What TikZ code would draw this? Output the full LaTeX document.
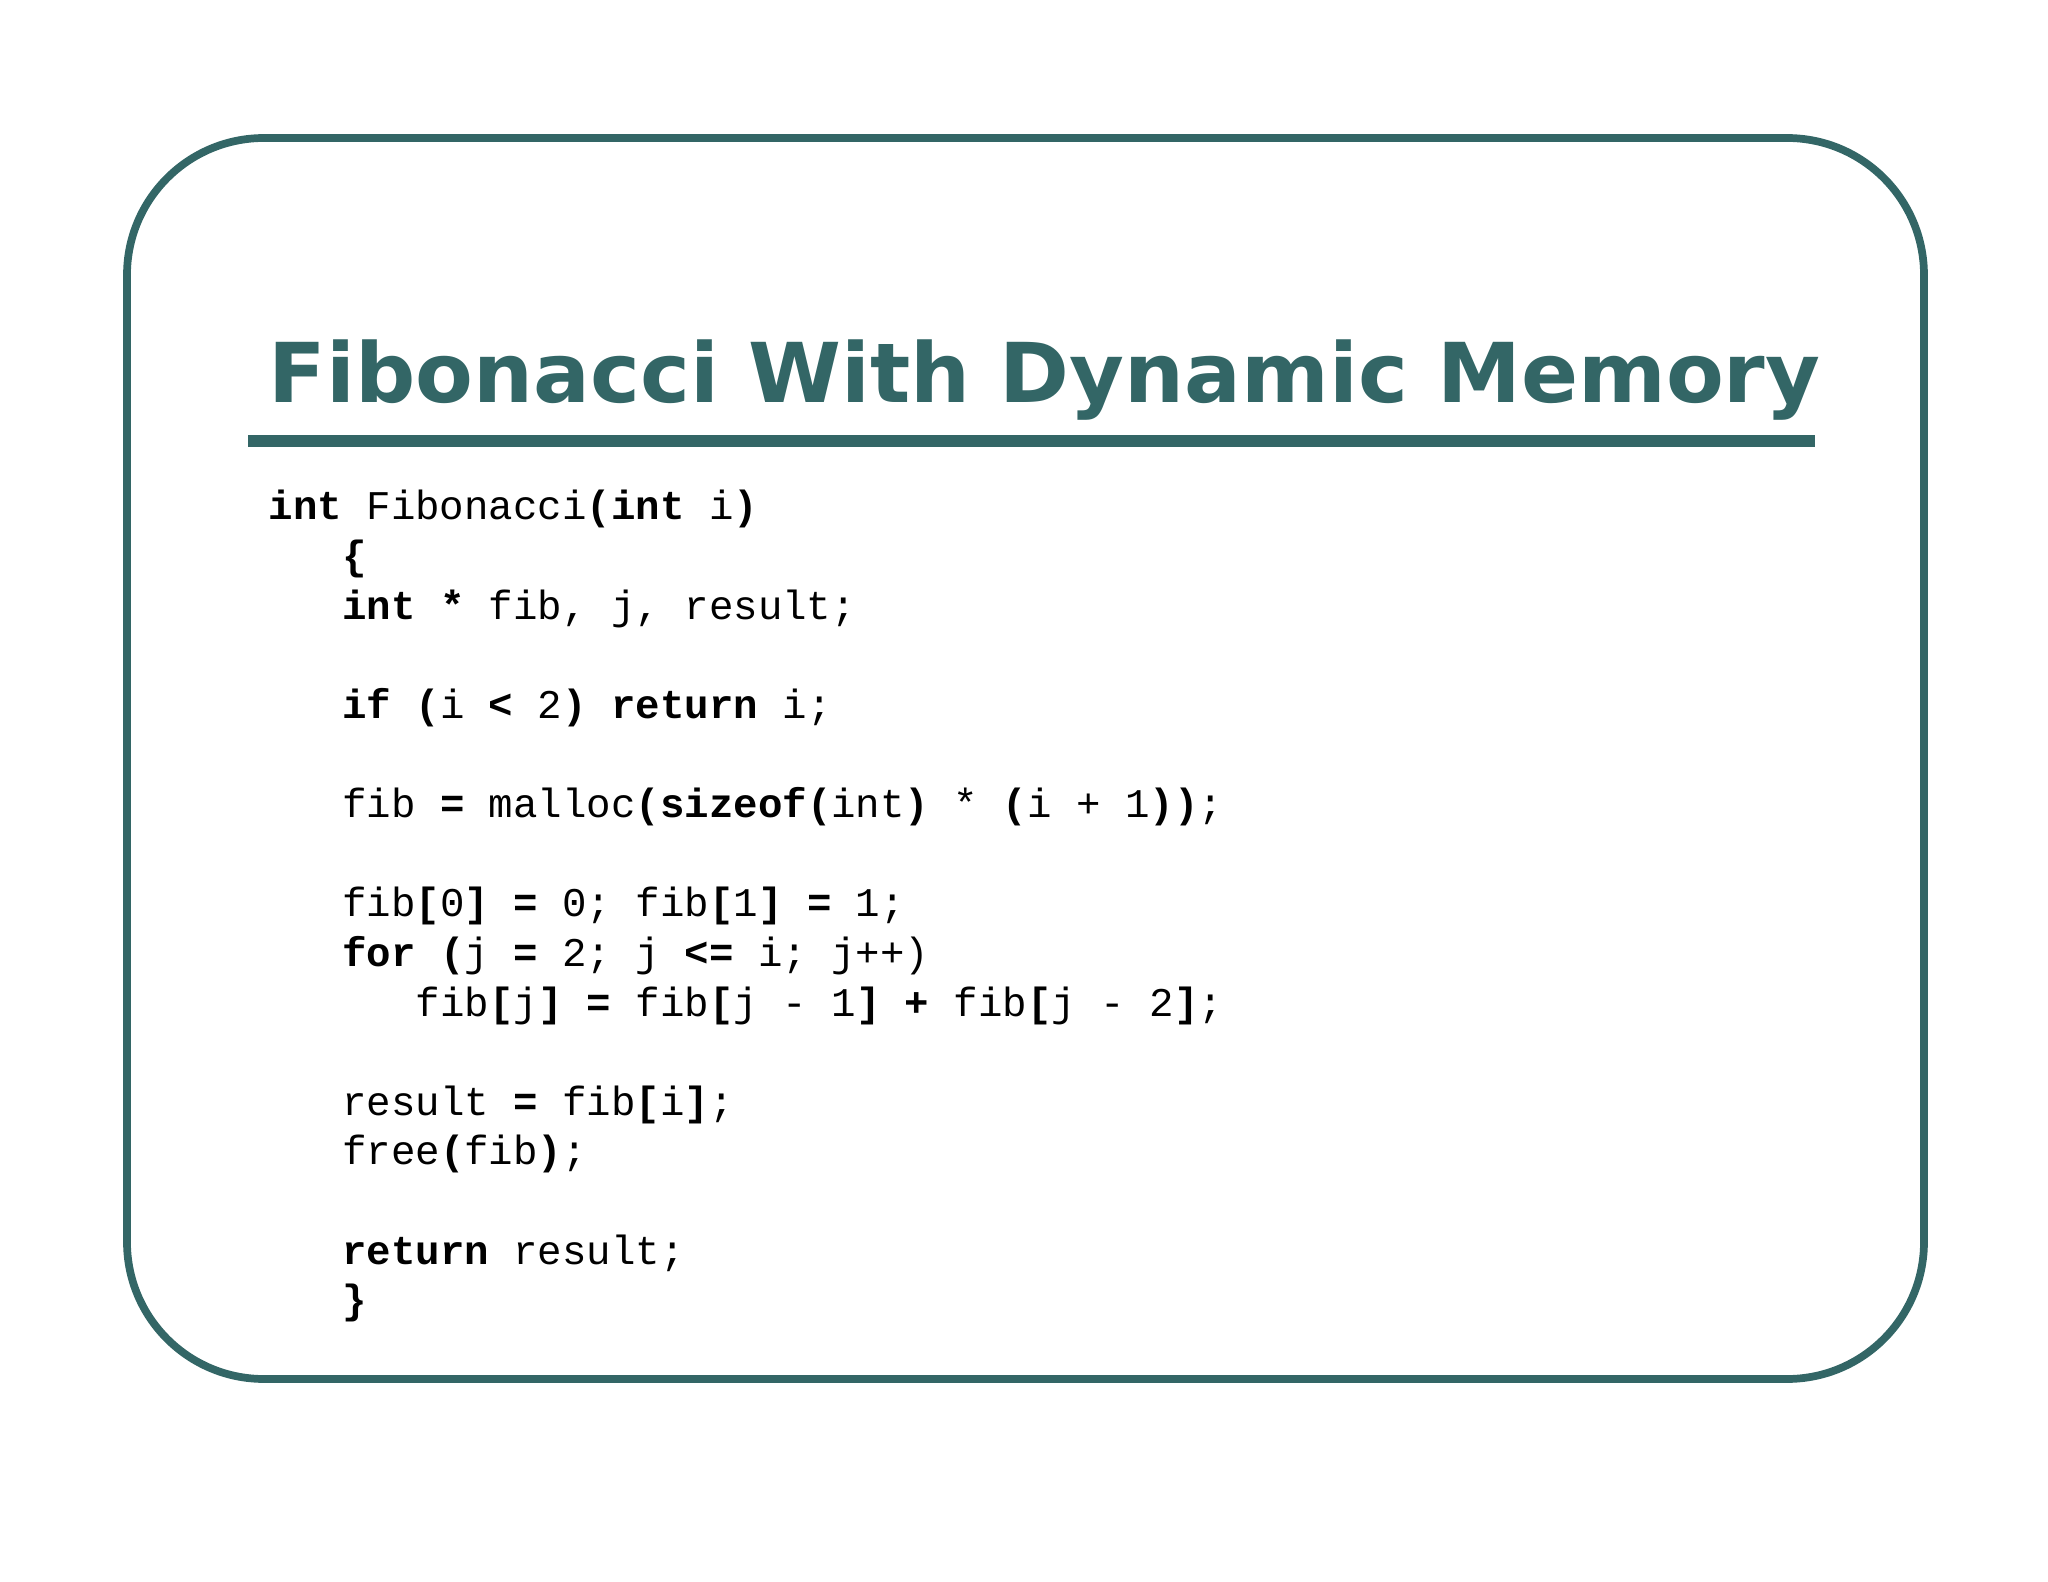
\documentclass[tikz,border=0pt]{standalone}
\usepackage{fontspec}
\setmainfont{DejaVu Sans}
\setmonofont{Liberation Mono}
\definecolor{slidegreen}{HTML}{336666}
\newcommand{\kw}[1]{\textbf{#1}}
\begin{document}
\begin{tikzpicture}[x=1cm,y=1cm,
  codeline/.style={anchor=base west,inner sep=0pt,font=\ttfamily\fontsize{11.6}{14}\selectfont}]
  \useasboundingbox (0,0) rectangle (20.48,-15.82);
  \draw[slidegreen,line width=2.2pt,rounded corners=1.37cm] (1.27,-1.38) rectangle (19.24,-13.79);
  \node[anchor=base west,inner sep=0pt,text=slidegreen,xscale=1.02,font=\bfseries\fontsize{23.5}{28}\selectfont] (title) at (2.68,-4.03) {Fibonacci With Dynamic Memory};
  \draw[slidegreen,line width=3.6pt] (2.48,-4.41) -- (18.15,-4.41);
  % code lines
  \def\lh{0.496}
  \def\cw{0.245}
  \node[codeline] (l0)  at (2.68,-5.20)             {\kw{int} Fibonacci\kw{(int} i\kw{)}};
  \node[codeline] (l1)  at (2.68+3*\cw,-5.20-1*\lh)  {\kw{\{}};
  \node[codeline] (l2)  at (2.68+3*\cw,-5.20-2*\lh)  {\kw{int *} fib, j, result;};
  \node[codeline] (l4)  at (2.68+3*\cw,-5.20-4*\lh)  {\kw{if (}i \kw{<} 2\kw{) return} i;};
  \node[codeline] (l6)  at (2.68+3*\cw,-5.20-6*\lh)  {fib \kw{=} malloc\kw{(sizeof(}int\kw{)} * \kw{(}i + 1\kw{))};};
  \node[codeline] (l8)  at (2.68+3*\cw,-5.20-8*\lh)  {fib\kw{[}0\kw{]} \kw{=} 0; fib\kw{[}1\kw{]} \kw{=} 1;};
  \node[codeline] (l9)  at (2.68+3*\cw,-5.20-9*\lh)  {\kw{for (}j \kw{=} 2; j \kw{<=} i; j++)};
  \node[codeline] (l10) at (2.68+6*\cw,-5.20-10*\lh) {fib\kw{[}j\kw{]} \kw{=} fib\kw{[}j - 1\kw{] +} fib\kw{[}j - 2\kw{]};};
  \node[codeline] (l12) at (2.68+3*\cw,-5.20-12*\lh) {result \kw{=} fib\kw{[}i\kw{]};};
  \node[codeline] (l13) at (2.68+3*\cw,-5.20-13*\lh) {free\kw{(}fib\kw{)};};
  \node[codeline] (l15) at (2.68+3*\cw,-5.20-15*\lh) {\kw{return} result;};
  \node[codeline] (l16) at (2.68+3*\cw,-5.20-16*\lh) {\kw{\}}};
\end{tikzpicture}
\end{document}
